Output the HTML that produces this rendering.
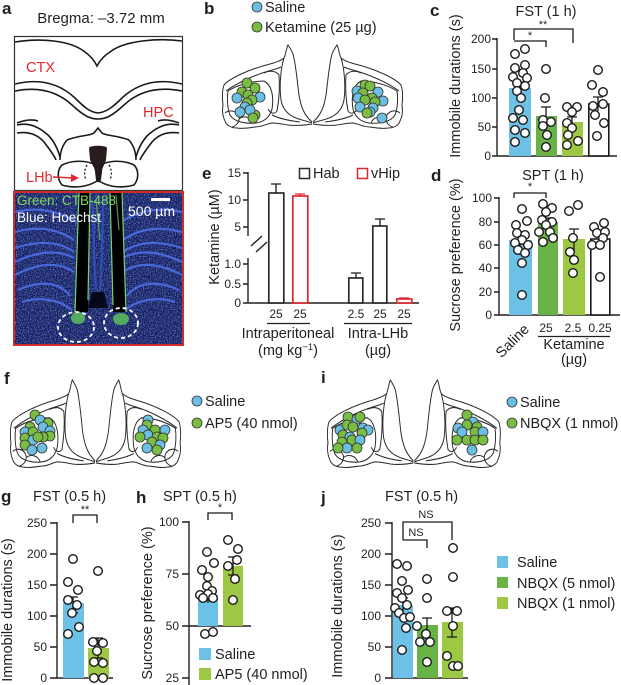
<!DOCTYPE html>
<html><head><meta charset="utf-8"><style>
html,body{margin:0;padding:0;background:#fff;}
svg{display:block;}
text{font-family:"Liberation Sans",Arial,sans-serif;fill:#231f20;}
.t{font-size:12px;}
.l{font-size:14.5px;}
.pl{font-size:17px;font-weight:bold;}
.ax{stroke:#231f20;stroke-width:1.4;fill:none;}
.pt{fill:#fff;stroke:#1a1a1a;stroke-width:1.4;}
.eb{stroke:#1a1a1a;stroke-width:1.3;fill:none;}
.br{stroke:#2a2a2a;stroke-width:1;fill:none;}
.bl{fill:#6cbfe2;stroke:#333;stroke-width:0.8;}
.gr{fill:#79bd42;stroke:#333;stroke-width:0.8;}
.dr{stroke:#1a1a1a;stroke-width:1.6;fill:none;}
</style></head><body>
<svg width="621" height="685" viewBox="0 0 621 685" xmlns="http://www.w3.org/2000/svg">
<defs>
<filter id="noise" x="0" y="0" width="100%" height="100%">
<feTurbulence type="fractalNoise" baseFrequency="0.85" numOctaves="1" seed="4" result="n"/>
<feColorMatrix in="n" type="matrix" values="0 0 0 0 0.22  0 0 0 0 0.32  0 0 0 0 0.85  0 0 0 2.2 -0.95"/>
</filter>
<clipPath id="imgclip"><rect x="14" y="192" width="169" height="153"/></clipPath>
<g id="half">
<path class="br" d="M2,40 C8,33 28,24 48,19 C55,17 60,15 62,13 C64,9 64,4 66,0 C68,3 70,6 71,9 C74,20 75,35 77,50 C79,62 82,70 90,77 M90,79 C84,80 75,81 66,80 C60,79 55,78 50,78 C44,79 40,82 33,82 C26,83 20,84 15,83 C9,83 4,80 3,76 C1,72 0,66 1,60 C0,52 0,46 2,40"/>
<path class="br" d="M62,13 C59,22 57,40 59,55 C61,66 68,72 80,75 C84,76 87,77 90,78"/>
<path class="br" d="M4,46 C15,38 32,30 50,25 C54,24 57,23 59,22"/>
<path class="br" d="M6,46 C15,40 30,36 42,36 C50,40 52,52 50,64 C48,72 42,77 34,78 C24,79 12,77 8,70 C5,62 5,52 6,46 Z"/>
<path class="br" d="M42,28 C48,25 54,26 57,30 C58,42 57,55 55,66 C52,70 48,68 46,64"/>
<path class="br" d="M3,68 C8,64 15,66 17,72 C18,77 14,81 10,82 M17,74 C22,70 30,72 32,78 M50,70 C58,74 70,76 78,77"/>
</g>
<g id="brain">
<use href="#half"/>
<use href="#half" transform="translate(181,0) scale(-1,1)"/>
</g>
</defs>

<!-- ================= Panel a ================= -->
<text class="pl" x="2" y="14">a</text>
<text x="101" y="23" font-size="15" text-anchor="middle">Bregma: –3.72 mm</text>
<rect x="14.5" y="36.5" width="168" height="154" fill="#fff" stroke="#333" stroke-width="1.2"/>
<path class="dr" d="M15,42 C40,38 70,40 85,52 C92,57 95,62 97,66 C99,62 102,57 110,52 C125,40 160,38 182,41"/>
<path class="dr" d="M15,84 C40,78 60,84 75,98 C85,108 90,112 98,113 C106,112 112,108 122,98 C137,84 157,78 182,84"/>
<path class="dr" d="M15,91 C40,86 58,92 72,105 C84,116 90,119 98,119 C106,119 112,116 124,105 C138,92 157,86 182,91"/>
<path class="dr" d="M17,125 C30,122 40,128 48,135 C55,142 58,150 60,157 M17,133 C30,131 38,135 44,142 C50,150 54,155 56,160 M17,123 C25,120 32,119 38,121"/>
<path class="dr" d="M179,125 C166,122 156,128 148,135 C141,142 138,150 136,157 M179,133 C166,131 158,135 152,142 C146,150 142,155 140,160 M179,123 C171,120 164,119 158,121"/>
<path class="dr" d="M67,140 C80,135 90,136 94,133 L98,128 L102,133 C106,136 116,135 129,140 M67,140 C62,146 60,152 60,160 M129,140 C134,146 136,152 136,160"/>
<path d="M89,148 C89,145 107,145 107,148 L106,160 C104,166 102,168 102,172 L101,180 C100,183 96,183 96,180 L95,172 C95,168 92,165 90,160 Z" fill="#2a1c1c"/>
<path class="dr" d="M62,165 C72,160 86,160 96,165 L97,181 C86,188 72,188 62,185 C57,179 57,170 62,165 Z"/>
<path class="dr" d="M134,165 C124,160 110,160 100,165 L99,181 C110,188 124,188 134,185 C139,179 139,170 134,165 Z"/>
<path d="M87,165 C84,170 84,175 86,180 M109,165 C112,170 112,175 110,180" stroke="#1a1a1a" stroke-width="1.3" fill="none" stroke-dasharray="2 2"/>
<text x="26" y="72" class="l" style="fill:#e2262b">CTX</text>
<text x="143" y="117" class="l" style="fill:#e2262b">HPC</text>
<text x="26" y="182" class="l" style="fill:#e2262b">LHb</text>
<path d="M53,177 L74,178" stroke="#e2262b" stroke-width="1.6"/>
<path d="M79,178 L71,174 L71,182 Z" fill="#e2262b"/>
<!-- histology image -->
<rect x="14" y="192" width="169" height="153" fill="#141f5e"/>
<g clip-path="url(#imgclip)">
<rect x="14" y="192" width="169" height="153" filter="url(#noise)"/>
</g>
<g stroke="#4a6ae0" stroke-width="2.2" fill="none" opacity="0.95">
<path d="M15,212 C40,206 60,212 76,222 M15,232 C40,225 60,230 74,240 M15,248 C40,240 60,242 74,252 M15,262 C40,250 60,250 74,258 M15,275 C40,262 60,262 74,272 M18,290 C40,280 60,282 70,296 M22,302 C40,296 60,300 72,310"/>
<path d="M182,212 C157,206 137,212 121,222 M182,232 C157,225 137,230 123,240 M182,248 C157,240 137,242 123,252 M182,262 C157,250 137,250 123,258 M182,275 C157,262 137,262 123,272 M179,290 C157,280 137,282 127,296 M175,302 C157,296 137,300 125,310"/>
<path d="M92,200 C95,230 93,260 96,290 M104,200 C101,230 103,260 100,290" stroke="#3050b8"/>
</g>
<path d="M79,192 L90,192 L88,312 L75,312 Z" fill="#000"/>
<path d="M110,192 L122,192 L126,312 L113,312 Z" fill="#000"/>
<path d="M92,292 L104,292 L108,308 L88,308 Z" fill="#05081a"/>
<g stroke="#72d66a" stroke-width="1.2" fill="none">
<path d="M79,192 L75,312 M90,192 L88,300 M110,192 L113,305 M122,192 L126,312"/>
<path d="M96,200 L100,240 M116,195 L119,230" opacity="0.7"/>
</g>
<ellipse cx="78" cy="318" rx="7" ry="6" fill="#5fc85a" opacity="0.8"/>
<ellipse cx="121" cy="319" rx="8" ry="6" fill="#5fc85a" opacity="0.8"/>
<ellipse cx="76" cy="327" rx="18" ry="15" fill="none" stroke="#fff" stroke-width="1.8" stroke-dasharray="4 3"/>
<ellipse cx="121" cy="323" rx="17" ry="15" fill="none" stroke="#fff" stroke-width="1.8" stroke-dasharray="4 3"/>
<rect x="14" y="192" width="169" height="153" fill="none" stroke="#d42a2a" stroke-width="2"/>
<text x="17" y="205" font-size="13.5" style="fill:#7ed957">Green: CTB-488</text>
<text x="17" y="222" font-size="13.5" style="fill:#fff">Blue: Hoechst</text>
<text x="128" y="216" font-size="14" style="fill:#fff">500 µm</text>
<rect x="151" y="198" width="19" height="3" fill="#fff"/>

<!-- ================= Panel b ================= -->
<text class="pl" x="204" y="14">b</text>
<circle class="bl" cx="257" cy="7" r="5"/>
<text class="l" x="265" y="12">Saline</text>
<circle class="gr" cx="257" cy="27" r="5"/>
<text class="l" x="265" y="32">Ketamine (25 µg)</text>
<use href="#brain" transform="translate(222,45)"/>
<g>
<circle class="gr" cx="247" cy="83" r="5"/><circle class="gr" cx="255" cy="88" r="5"/><circle class="gr" cx="242" cy="92" r="5"/>
<circle class="bl" cx="237" cy="98" r="5"/><circle class="gr" cx="248" cy="95" r="5"/><circle class="bl" cx="260" cy="97" r="5"/>
<circle class="gr" cx="252" cy="100" r="5"/><circle class="gr" cx="247" cy="103" r="5"/><circle class="bl" cx="245" cy="107" r="5"/>
<circle class="bl" cx="240" cy="112" r="5"/><circle class="gr" cx="255" cy="115" r="5"/><circle class="bl" cx="250" cy="110" r="5"/>
<circle class="gr" cx="253" cy="118" r="5"/>
<circle class="gr" cx="365" cy="85" r="5"/><circle class="gr" cx="370" cy="86" r="5"/><circle class="bl" cx="357" cy="91" r="5"/>
<circle class="bl" cx="378" cy="92" r="5"/><circle class="gr" cx="363" cy="93" r="5"/><circle class="bl" cx="358" cy="98" r="5"/>
<circle class="gr" cx="372" cy="98" r="5"/><circle class="gr" cx="365" cy="100" r="5"/><circle class="bl" cx="383" cy="101" r="5"/>
<circle class="gr" cx="375" cy="102" r="5"/><circle class="bl" cx="360" cy="107" r="5"/><circle class="bl" cx="373" cy="108" r="5"/>
<circle class="bl" cx="370" cy="112" r="5"/><circle class="gr" cx="367" cy="113" r="5"/><circle class="bl" cx="382" cy="118" r="5"/>
</g>

<!-- ================= Panel c ================= -->
<text class="pl" x="430" y="16">c</text>
<text class="l" x="546" y="16" text-anchor="middle">FST (1 h)</text>
<text class="l" transform="translate(460,86) rotate(-90)" text-anchor="middle">Immobile durations (s)</text>
<path class="ax" d="M497,38 L497,156 L617,156 M492,39 H497 M492,69 H497 M492,98 H497 M492,127 H497 M492,156 H497"/>
<g class="t" text-anchor="end">
<text x="491" y="43">200</text><text x="491" y="73">150</text><text x="491" y="102">100</text><text x="491" y="131">50</text><text x="491" y="160">0</text>
</g>
<rect x="509" y="88" width="22" height="68" fill="#6dc1e6"/>
<rect x="536" y="116" width="21" height="40" fill="#68b246"/>
<rect x="562" y="122" width="21" height="34" fill="#9dc844"/>
<rect x="588.8" y="104" width="20" height="52" fill="#fff" stroke="#1a1a1a" stroke-width="1.6"/>
<path class="eb" d="M520,82 V95 M515,82 H525 M546,107 V125 M541,107 H551 M572,117 V128 M567,117 H577 M598,97 V111 M593,97 H603"/>
<path class="eb" d="M514,40 V29 H573 V43 M514,41 H546 V47"/>
<text x="543" y="28" font-size="11" text-anchor="middle">**</text>
<text x="530" y="39" font-size="11" text-anchor="middle">*</text>
<g>
<circle class="pt" cx="515" cy="54" r="4.3"/><circle class="pt" cx="525" cy="49" r="4.3"/><circle class="pt" cx="525" cy="65" r="4.3"/>
<circle class="pt" cx="515" cy="68" r="4.3"/><circle class="pt" cx="523" cy="73" r="4.3"/><circle class="pt" cx="513" cy="77" r="4.3"/>
<circle class="pt" cx="527" cy="78" r="4.3"/><circle class="pt" cx="517" cy="83" r="4.3"/><circle class="pt" cx="525" cy="86" r="4.3"/>
<circle class="pt" cx="517" cy="91" r="4.3"/><circle class="pt" cx="521" cy="98" r="4.3"/><circle class="pt" cx="513" cy="118" r="4.3"/>
<circle class="pt" cx="523" cy="120" r="4.3"/><circle class="pt" cx="525" cy="133" r="4.3"/><circle class="pt" cx="515" cy="130" r="4.3"/>
<circle class="pt" cx="515" cy="142" r="4.3"/><circle class="pt" cx="519" cy="110" r="4.3"/>
<circle class="pt" cx="546" cy="69" r="4.3"/><circle class="pt" cx="545" cy="98" r="4.3"/><circle class="pt" cx="543" cy="120" r="4.3"/>
<circle class="pt" cx="551" cy="122" r="4.3"/><circle class="pt" cx="543" cy="126" r="4.3"/><circle class="pt" cx="547" cy="135" r="4.3"/>
<circle class="pt" cx="546" cy="147" r="4.3"/>
<circle class="pt" cx="567" cy="107" r="4.3"/><circle class="pt" cx="577" cy="107" r="4.3"/><circle class="pt" cx="572" cy="112" r="4.3"/>
<circle class="pt" cx="567" cy="123" r="4.3"/><circle class="pt" cx="572" cy="128" r="4.3"/><circle class="pt" cx="568" cy="135" r="4.3"/>
<circle class="pt" cx="578" cy="141" r="4.3"/><circle class="pt" cx="567" cy="145" r="4.3"/>
<circle class="pt" cx="598" cy="70" r="4.3"/><circle class="pt" cx="592" cy="85" r="4.3"/><circle class="pt" cx="603" cy="92" r="4.3"/>
<circle class="pt" cx="593" cy="106" r="4.3"/><circle class="pt" cx="603" cy="104" r="4.3"/><circle class="pt" cx="595" cy="115" r="4.3"/>
<circle class="pt" cx="604" cy="123" r="4.3"/><circle class="pt" cx="597" cy="136" r="4.3"/>
</g>

<!-- ================= Panel d ================= -->
<text class="pl" x="431" y="181">d</text>
<text class="l" x="553" y="180" text-anchor="middle">SPT (1 h)</text>
<text class="l" transform="translate(460,255) rotate(-90)" text-anchor="middle">Sucrose preference (%)</text>
<path class="ax" d="M499,197 L499,315 L620,315 M494,198 H499 M494,222 H499 M494,245 H499 M494,268 H499 M494,292 H499 M494,315 H499"/>
<g class="t" text-anchor="end">
<text x="492" y="202">100</text><text x="492" y="226">80</text><text x="492" y="249">60</text><text x="492" y="272">40</text><text x="492" y="296">20</text><text x="492" y="319">0</text>
</g>
<rect x="509" y="240" width="23" height="75" fill="#6dc1e6"/>
<rect x="538" y="222" width="20" height="93" fill="#68b246"/>
<rect x="563" y="239" width="22" height="76" fill="#9dc844"/>
<rect x="590.8" y="239" width="19" height="76" fill="#fff" stroke="#1a1a1a" stroke-width="1.6"/>
<path class="eb" d="M520,233 V247 M515,233 H525 M548,218 V226 M543,218 H553 M574,229 V252 M569,229 H579 M600,235 V243 M595,235 H605"/>
<path class="eb" d="M514,198 V193 H546 V198"/>
<text x="530" y="190" font-size="11" text-anchor="middle">*</text>
<g>
<circle class="pt" cx="522" cy="209" r="4.3"/><circle class="pt" cx="516" cy="225" r="4.3"/><circle class="pt" cx="527" cy="221" r="4.3"/>
<circle class="pt" cx="517" cy="233" r="4.3"/><circle class="pt" cx="525" cy="235" r="4.3"/><circle class="pt" cx="522" cy="240" r="4.3"/>
<circle class="pt" cx="515" cy="243" r="4.3"/><circle class="pt" cx="528" cy="245" r="4.3"/><circle class="pt" cx="518" cy="250" r="4.3"/>
<circle class="pt" cx="525" cy="253" r="4.3"/><circle class="pt" cx="522" cy="263" r="4.3"/><circle class="pt" cx="522" cy="295" r="4.3"/>
<circle class="pt" cx="543" cy="204" r="4.3"/><circle class="pt" cx="552" cy="208" r="4.3"/><circle class="pt" cx="546" cy="212" r="4.3"/>
<circle class="pt" cx="542" cy="220" r="4.3"/><circle class="pt" cx="552" cy="222" r="4.3"/><circle class="pt" cx="546" cy="225" r="4.3"/>
<circle class="pt" cx="539" cy="232" r="4.3"/><circle class="pt" cx="550" cy="232" r="4.3"/><circle class="pt" cx="553" cy="238" r="4.3"/>
<circle class="pt" cx="543" cy="242" r="4.3"/>
<circle class="pt" cx="569" cy="211" r="4.3"/><circle class="pt" cx="578" cy="205" r="4.3"/><circle class="pt" cx="573" cy="238" r="4.3"/>
<circle class="pt" cx="570" cy="252" r="4.3"/><circle class="pt" cx="574" cy="260" r="4.3"/><circle class="pt" cx="573" cy="273" r="4.3"/>
<circle class="pt" cx="594" cy="227" r="4.3"/><circle class="pt" cx="604" cy="223" r="4.3"/><circle class="pt" cx="597" cy="233" r="4.3"/>
<circle class="pt" cx="605" cy="232" r="4.3"/><circle class="pt" cx="603" cy="238" r="4.3"/><circle class="pt" cx="592" cy="245" r="4.3"/>
<circle class="pt" cx="600" cy="245" r="4.3"/><circle class="pt" cx="600" cy="277" r="4.3"/>
</g>
<text class="l" transform="translate(530,330) rotate(-45)" text-anchor="end">Saline</text>
<g class="t" text-anchor="middle">
<text x="546" y="332">25</text><text x="573" y="332">2.5</text><text x="600" y="332">0.25</text>
</g>
<path d="M538,336.5 H610" stroke="#231f20" stroke-width="1.2"/>
<text class="l" x="574" y="349" text-anchor="middle">Ketamine</text>
<text class="l" x="574" y="364" text-anchor="middle">(µg)</text>

<!-- ================= Panel e ================= -->
<text class="pl" x="202" y="179">e</text>
<text class="l" transform="translate(219,237) rotate(-90)" text-anchor="middle">Ketamine (µM)</text>
<path class="ax" d="M248,172 L248,236 M248,258 L248,303 L419,303 M243,173 H248 M243,200 H248 M243,227 H248 M243,264 H248 M243,284 H248 M243,303 H248"/>
<path d="M251,246 L262,236 M256,252 L267,242" stroke="#231f20" stroke-width="1.4"/>
<g class="t" text-anchor="end">
<text x="241" y="177">15</text><text x="241" y="204">10</text><text x="241" y="231">5</text><text x="241" y="268">1.0</text><text x="241" y="288">0.5</text><text x="241" y="307">0</text>
</g>
<rect x="268.8" y="193" width="15" height="110" fill="#fff" stroke="#2b2b2b" stroke-width="1.7"/>
<rect x="292.8" y="196" width="15" height="107" fill="#fff" stroke="#d9282f" stroke-width="1.7"/>
<rect x="348.8" y="278" width="14" height="25" fill="#fff" stroke="#2b2b2b" stroke-width="1.7"/>
<rect x="372.8" y="226" width="14" height="77" fill="#fff" stroke="#2b2b2b" stroke-width="1.7"/>
<rect x="396.8" y="299" width="15" height="4" fill="#fff" stroke="#d9282f" stroke-width="1.7"/>
<path class="eb" d="M276,193 V184 M271,184 H281 M356,278 V273 M351,273 H361 M380,226 V219 M375,219 H385"/>
<path d="M300,196 V194 M295,194 H305 M404,299 V298 M399,298 H409" stroke="#d9282f" stroke-width="1.3"/>
<rect x="299.5" y="168.5" width="10" height="10" fill="#fff" stroke="#2b2b2b" stroke-width="1.5"/>
<text class="l" x="313" y="178">Hab</text>
<rect x="357.5" y="168.5" width="10" height="10" fill="#fff" stroke="#d9282f" stroke-width="1.5"/>
<text class="l" x="371" y="178">vHip</text>
<g class="t" text-anchor="middle">
<text x="276" y="318">25</text><text x="300" y="318">25</text><text x="356" y="318">2.5</text><text x="380" y="318">25</text><text x="404" y="318">25</text>
</g>
<path d="M267,323.5 H310 M344,323.5 H412" stroke="#231f20" stroke-width="1.2"/>
<text class="l" x="288" y="338" text-anchor="middle">Intraperitoneal</text>
<text class="l" x="288" y="355" text-anchor="middle">(mg kg<tspan font-size="9.5" dy="-5">−1</tspan><tspan dy="5">)</tspan></text>
<text class="l" x="378" y="338" text-anchor="middle">Intra-LHb</text>
<text class="l" x="378" y="355" text-anchor="middle">(µg)</text>

<!-- ================= Panel f ================= -->
<text class="pl" x="4" y="384">f</text>
<use href="#brain" transform="translate(10,380) scale(0.945,1.05)"/>
<g>
<circle class="gr" cx="35" cy="415" r="5"/><circle class="bl" cx="40" cy="420" r="5"/><circle class="gr" cx="48" cy="423" r="5"/>
<circle class="gr" cx="30" cy="427" r="5"/><circle class="bl" cx="43" cy="427" r="5"/><circle class="bl" cx="25" cy="432" r="5"/>
<circle class="gr" cx="33" cy="432" r="5"/><circle class="bl" cx="50" cy="431" r="5"/><circle class="gr" cx="50" cy="436" r="5"/>
<circle class="gr" cx="43" cy="437" r="5"/><circle class="gr" cx="25" cy="438" r="5"/><circle class="bl" cx="33" cy="440" r="5"/>
<circle class="gr" cx="38" cy="437" r="5"/><circle class="gr" cx="25" cy="445" r="5"/><circle class="bl" cx="32" cy="450" r="5"/>
<circle class="bl" cx="42" cy="448" r="5"/>
<circle class="bl" cx="148" cy="420" r="5"/><circle class="gr" cx="147" cy="425" r="5"/><circle class="bl" cx="143" cy="430" r="5"/>
<circle class="gr" cx="155" cy="430" r="5"/><circle class="bl" cx="165" cy="430" r="5"/><circle class="bl" cx="148" cy="435" r="5"/>
<circle class="gr" cx="140" cy="437" r="5"/><circle class="gr" cx="157" cy="437" r="5"/><circle class="gr" cx="163" cy="438" r="5"/>
<circle class="gr" cx="152" cy="442" r="5"/><circle class="bl" cx="160" cy="445" r="5"/><circle class="bl" cx="147" cy="448" r="5"/>
<circle class="gr" cx="157" cy="450" r="5"/>
</g>
<circle class="bl" cx="197" cy="401" r="5"/>
<text class="l" x="205" y="406">Saline</text>
<circle class="gr" cx="197" cy="423" r="5"/>
<text class="l" x="205" y="428">AP5 (40 nmol)</text>

<!-- ================= Panel i ================= -->
<text class="pl" x="321" y="383">i</text>
<use href="#brain" transform="translate(327,380) scale(0.96,1.05)"/>
<g>
<circle class="gr" cx="348" cy="417" r="5"/><circle class="bl" cx="357" cy="419" r="5"/><circle class="gr" cx="360" cy="417" r="5"/>
<circle class="bl" cx="340" cy="430" r="5"/><circle class="gr" cx="347" cy="425" r="5"/><circle class="gr" cx="353" cy="427" r="5"/>
<circle class="bl" cx="363" cy="428" r="5"/><circle class="bl" cx="368" cy="430" r="5"/><circle class="gr" cx="343" cy="435" r="5"/>
<circle class="gr" cx="362" cy="433" r="5"/><circle class="bl" cx="350" cy="437" r="5"/><circle class="gr" cx="342" cy="442" r="5"/>
<circle class="gr" cx="352" cy="440" r="5"/><circle class="bl" cx="360" cy="440" r="5"/><circle class="bl" cx="347" cy="448" r="5"/>
<circle class="gr" cx="357" cy="448" r="5"/><circle class="gr" cx="338" cy="448" r="5"/>
<circle class="gr" cx="467" cy="415" r="5"/><circle class="bl" cx="473" cy="422" r="5"/><circle class="gr" cx="467" cy="425" r="5"/>
<circle class="gr" cx="477" cy="427" r="5"/><circle class="bl" cx="458" cy="428" r="5"/><circle class="bl" cx="462" cy="432" r="5"/>
<circle class="gr" cx="475" cy="432" r="5"/><circle class="bl" cx="483" cy="432" r="5"/><circle class="gr" cx="457" cy="440" r="5"/>
<circle class="gr" cx="467" cy="440" r="5"/><circle class="gr" cx="475" cy="440" r="5"/><circle class="gr" cx="483" cy="440" r="5"/>
<circle class="bl" cx="472" cy="450" r="5"/>
</g>
<circle class="bl" cx="512" cy="402" r="5"/>
<text class="l" x="520" y="407">Saline</text>
<circle class="gr" cx="512" cy="423" r="5"/>
<text class="l" x="520" y="428">NBQX (1 nmol)</text>

<!-- ================= Panel g ================= -->
<text class="pl" x="1" y="502">g</text>
<text class="l" x="33" y="501">FST (0.5 h)</text>
<text class="l" transform="translate(12,610) rotate(-90)" text-anchor="middle">Immobile durations (s)</text>
<path class="ax" d="M57,522 L57,678 L113,678 M50,523 H57 M50,554 H57 M50,585 H57 M50,616 H57 M50,647 H57 M50,678 H57"/>
<g class="t" text-anchor="end">
<text x="47" y="527">250</text><text x="47" y="558">200</text><text x="47" y="589">150</text><text x="47" y="620">100</text><text x="47" y="651">50</text><text x="47" y="682">0</text>
</g>
<rect x="63" y="603" width="21" height="75" fill="#6dc1e6"/>
<rect x="88" y="648" width="21" height="30" fill="#9dc844"/>
<path class="eb" d="M73,597 V613 M68,597 H78 M68,613 H78 M98,638 V658 M93,638 H103 M93,658 H103"/>
<path class="eb" d="M73,523 V515 H97 V523"/>
<text x="85" y="513" font-size="11" text-anchor="middle">**</text>
<g>
<circle class="pt" cx="73" cy="559" r="4.3"/><circle class="pt" cx="68" cy="582" r="4.3"/><circle class="pt" cx="78" cy="590" r="4.3"/>
<circle class="pt" cx="68" cy="600" r="4.3"/><circle class="pt" cx="77" cy="605" r="4.3"/><circle class="pt" cx="72" cy="613" r="4.3"/>
<circle class="pt" cx="79" cy="627" r="4.3"/><circle class="pt" cx="68" cy="634" r="4.3"/>
<circle class="pt" cx="98" cy="571" r="4.3"/><circle class="pt" cx="93" cy="642" r="4.3"/><circle class="pt" cx="103" cy="643" r="4.3"/>
<circle class="pt" cx="97" cy="651" r="4.3"/><circle class="pt" cx="94" cy="662" r="4.3"/><circle class="pt" cx="103" cy="663" r="4.3"/>
<circle class="pt" cx="94" cy="678" r="4.3"/><circle class="pt" cx="103" cy="678" r="4.3"/>
</g>

<!-- ================= Panel h ================= -->
<text class="pl" x="136" y="503">h</text>
<text class="l" x="163" y="501">SPT (0.5 h)</text>
<text class="l" transform="translate(152,603) rotate(-90)" text-anchor="middle">Sucrose preference (%)</text>
<path class="ax" d="M189,521 L189,685 M182,522 H189 M182,574 H189 M182,678 H189 M182,626 H251"/>
<g class="t" text-anchor="end">
<text x="179" y="526">100</text><text x="179" y="578">75</text><text x="179" y="630">50</text><text x="179" y="682">25</text>
</g>
<rect x="198" y="595" width="20" height="31" fill="#6dc1e6"/>
<rect x="223" y="566" width="20" height="60" fill="#9dc844"/>
<path class="eb" d="M208,588 V603 M203,588 H213 M233,557 V575 M228,557 H238 M228,575 H238"/>
<path class="eb" d="M208,520 V513 H232 V520"/>
<text x="220" y="511" font-size="11" text-anchor="middle">*</text>
<g>
<circle class="pt" cx="207" cy="552" r="4.3"/><circle class="pt" cx="214" cy="563" r="4.3"/><circle class="pt" cx="202" cy="570" r="4.3"/>
<circle class="pt" cx="208" cy="577" r="4.3"/><circle class="pt" cx="207" cy="586" r="4.3"/><circle class="pt" cx="212" cy="591" r="4.3"/>
<circle class="pt" cx="200" cy="595" r="4.3"/><circle class="pt" cx="208" cy="594" r="4.3"/><circle class="pt" cx="213" cy="598" r="4.3"/>
<circle class="pt" cx="203" cy="598" r="4.3"/><circle class="pt" cx="205" cy="634" r="4.3"/><circle class="pt" cx="213" cy="632" r="4.3"/>
<circle class="pt" cx="228" cy="540" r="4.3"/><circle class="pt" cx="238" cy="549" r="4.3"/><circle class="pt" cx="237" cy="560" r="4.3"/>
<circle class="pt" cx="228" cy="566" r="4.3"/><circle class="pt" cx="235" cy="579" r="4.3"/><circle class="pt" cx="233" cy="600" r="4.3"/>
</g>
<rect x="199" y="648" width="12" height="12" fill="#6dc1e6"/>
<text class="l" x="215" y="659">Saline</text>
<rect x="199" y="668" width="12" height="12" fill="#9dc844"/>
<text class="l" x="215" y="679">AP5 (40 nmol)</text>

<!-- ================= Panel j ================= -->
<text class="pl" x="321" y="503">j</text>
<text class="l" x="385" y="501">FST (0.5 h)</text>
<text class="l" transform="translate(342,606) rotate(-90)" text-anchor="middle">Immobile durations (s)</text>
<path class="ax" d="M392,522 L392,678 L468,678 M385,523 H392 M385,554 H392 M385,585 H392 M385,616 H392 M385,647 H392 M385,678 H392"/>
<g class="t" text-anchor="end">
<text x="381" y="527">250</text><text x="381" y="558">200</text><text x="381" y="589">150</text><text x="381" y="620">100</text><text x="381" y="651">50</text><text x="381" y="682">0</text>
</g>
<rect x="393" y="605" width="20" height="73" fill="#6dc1e6"/>
<rect x="417" y="625" width="21" height="53" fill="#68b246"/>
<rect x="442" y="622" width="21" height="56" fill="#9dc844"/>
<path class="eb" d="M403,598 V612 M398,598 H408 M427,618 V632 M422,618 H432 M452,608 V637 M447,608 H457 M447,637 H457"/>
<path class="eb" d="M403,540 V522 H452 V540 M403,540 H427 V548"/>
<text x="426" y="518" font-size="11" text-anchor="middle">NS</text>
<text x="416" y="536" font-size="11" text-anchor="middle">NS</text>
<g>
<circle class="pt" cx="397" cy="564" r="4.3"/><circle class="pt" cx="407" cy="566" r="4.3"/><circle class="pt" cx="402" cy="581" r="4.3"/>
<circle class="pt" cx="397" cy="593" r="4.3"/><circle class="pt" cx="408" cy="590" r="4.3"/><circle class="pt" cx="402" cy="598" r="4.3"/>
<circle class="pt" cx="395" cy="608" r="4.3"/><circle class="pt" cx="407" cy="605" r="4.3"/><circle class="pt" cx="399" cy="613" r="4.3"/>
<circle class="pt" cx="404" cy="618" r="4.3"/><circle class="pt" cx="410" cy="617" r="4.3"/><circle class="pt" cx="406" cy="628" r="4.3"/>
<circle class="pt" cx="402" cy="650" r="4.3"/>
<circle class="pt" cx="427" cy="579" r="4.3"/><circle class="pt" cx="427" cy="598" r="4.3"/><circle class="pt" cx="417" cy="626" r="4.3"/>
<circle class="pt" cx="426" cy="634" r="4.3"/><circle class="pt" cx="420" cy="642" r="4.3"/><circle class="pt" cx="430" cy="642" r="4.3"/>
<circle class="pt" cx="427" cy="662" r="4.3"/>
<circle class="pt" cx="453" cy="548" r="4.3"/><circle class="pt" cx="453" cy="577" r="4.3"/><circle class="pt" cx="447" cy="611" r="4.3"/>
<circle class="pt" cx="457" cy="611" r="4.3"/><circle class="pt" cx="453" cy="626" r="4.3"/><circle class="pt" cx="447" cy="656" r="4.3"/>
<circle class="pt" cx="453" cy="666" r="4.3"/><circle class="pt" cx="458" cy="666" r="4.3"/>
</g>
<rect x="497" y="556" width="11" height="12" fill="#6dc1e6"/>
<text class="l" x="517" y="567">Saline</text>
<rect x="497" y="577" width="11" height="11" fill="#68b246"/>
<text class="l" x="517" y="588">NBQX (5 nmol)</text>
<rect x="497" y="597" width="11" height="12" fill="#9dc844"/>
<text class="l" x="517" y="608">NBQX (1 nmol)</text>
</svg>
</body></html>
